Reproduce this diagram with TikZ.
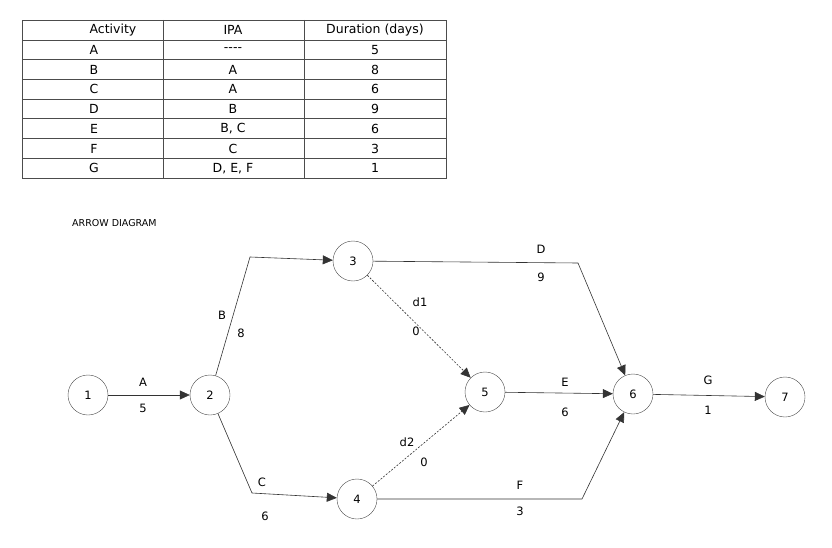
\documentclass[tikz,border=0pt]{standalone}
\usepackage{fontspec}
\setmainfont{DejaVu Sans}
\usetikzlibrary{arrows.meta}
\begin{document}
\begin{tikzpicture}[x=1pt,y=-1pt,
  ev/.style={circle,draw=black!70,minimum size=40pt,inner sep=0pt,font=\fontsize{11.5}{13}\selectfont},
  act/.style={draw=black!80,line width=0.6pt,-{Triangle[length=10pt,width=9pt]}},
  dum/.style={act,dashed,dash pattern=on 2pt off 1.5pt},
  lab/.style={font=\fontsize{11.5}{13}\selectfont,inner sep=0pt},
  tc/.style={font=\fontsize{12.5}{14}\selectfont,inner sep=0pt}]
\useasboundingbox (0,0) rectangle (832,548);
% table
\draw[black!70,line width=0.8pt] (22,20) rectangle (446,178);
\foreach \x in {163,304} \draw[black!70,line width=0.8pt] (\x,20) -- (\x,178);
\foreach \y in {40,59.5,79,99,118.5,138,158} \draw[black!70,line width=0.8pt] (22,\y) -- (446,\y);
\node[tc] (h1) at (113,30) {Activity};
\node[tc] (h2) at (233,30) {IPA};
\node[tc] (h3) at (375,30) {Duration (days)};
\foreach \r/\p/\d [count=\i] in {A/{{-}{-}{-}{-}}/5,B/A/8,C/A/6,D/B/9,E/{B, C}/6,F/C/3,G/{D, E, F}/1}{
  \pgfmathsetmacro\yy{30+19.75*\i}
  \node[tc] (ra\i) at (94,\yy) {\r};
  \node[tc] (rp\i) at (233,\yy) {\p};
  \node[tc] (rd\i) at (375,\yy) {\d};
}
\node[font=\fontsize{9.5}{11}\selectfont,anchor=west,inner sep=0pt] (title) at (72,223) {ARROW DIAGRAM};
% events
\node[ev] (n1) at (88,395) {1};
\node[ev] (n2) at (210,395) {2};
\node[ev] (n3) at (353,261) {3};
\node[ev] (n4) at (357,499) {4};
\node[ev] (n5) at (485,392) {5};
\node[ev] (n6) at (633,394) {6};
\node[ev] (n7) at (785,397) {7};
\coordinate (bB) at (250,257);
\coordinate (bC) at (252,493);
\coordinate (bD) at (578,263);
\coordinate (bF) at (582,499);
\draw[act] (n1) -- (n2);
\draw[act] (n2) -- (bB) -- (n3);
\draw[act] (n2) -- (bC) -- (n4);
\draw[act] (n3) -- (bD) -- (n6);
\draw[act] (n4) -- (bF) -- (n6);
\draw[act] (n5) -- (n6);
\draw[act] (n6) -- (n7);
\draw[dum] (n3) -- (n5);
\draw[dum] (n4) -- (n5);
% labels
\node[lab] (lA) at (143,382) {A}; \node[lab] (dA) at (143,408) {5};
\node[lab] (lB) at (222,315) {B}; \node[lab] (dB) at (241,333) {8};
\node[lab] (lC) at (262,482) {C}; \node[lab] (dC) at (265,516) {6};
\node[lab] (lD) at (541,249) {D}; \node[lab] (dD) at (541,277) {9};
\node[lab] (l1) at (420,302) {d1}; \node[lab] (d1) at (416,331) {0};
\node[lab] (l2) at (407,442) {d2}; \node[lab] (d2) at (424,462) {0};
\node[lab] (lE) at (565,382) {E}; \node[lab] (dE) at (565,412) {6};
\node[lab] (lF) at (520,485) {F}; \node[lab] (dF) at (520,511) {3};
\node[lab] (lG) at (708,380) {G}; \node[lab] (dG) at (708,410) {1};
\end{tikzpicture}
\end{document}
